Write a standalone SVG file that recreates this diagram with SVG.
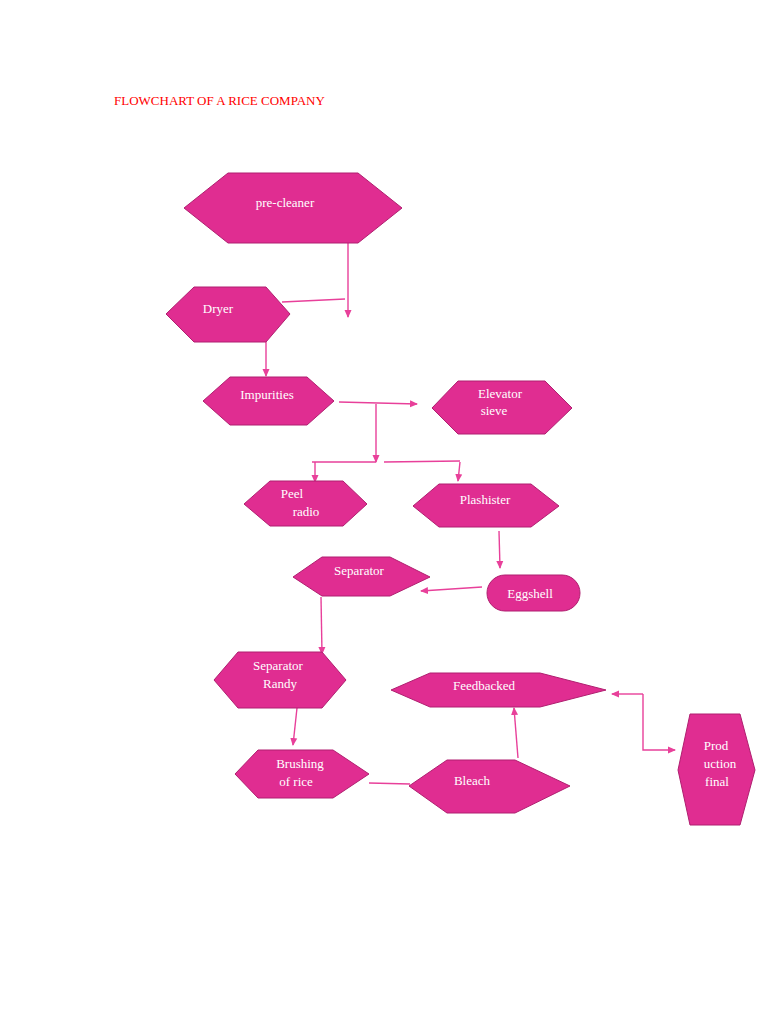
<svg xmlns="http://www.w3.org/2000/svg" width="768" height="1024" viewBox="0 0 768 1024">
<style>
.n{fill:#e02d91;stroke:#b01f70;stroke-width:1}
.t{font-family:"Liberation Serif",serif;font-size:13px;fill:#fff;text-anchor:middle}
.c{stroke:#e8409a;stroke-width:1.4;fill:none}
.a{marker-end:url(#ar)}
</style>
<defs><marker id="ar" markerWidth="8" markerHeight="8" refX="7" refY="4" orient="auto" markerUnits="userSpaceOnUse"><path d="M0,0.5 L8,4 L0,7.5z" fill="#e8409a"/></marker></defs>
<rect width="768" height="1024" fill="#fff"/>
<text x="114" y="105" font-family="Liberation Serif,serif" font-size="13" fill="#f00">FLOWCHART OF A RICE COMPANY</text>
<g id="connectors">
<path class="c a" d="M348,243 V317"/>
<path class="c" d="M282,302 L345,299"/>
<path class="c a" d="M266,342 V376"/>
<path class="c a" d="M339,402 L417,404"/>
<path class="c a" d="M376,404 V462"/>
<path class="c" d="M312,462 H376 M384,462 L460,461"/>
<path class="c a" d="M315,462 V482"/>
<path class="c a" d="M460,462 L458,481"/>
<path class="c a" d="M499,531 L500,568"/>
<path class="c a" d="M482,587 L421,591"/>
<path class="c a" d="M321,597 L322,654"/>
<path class="c a" d="M297,708 L293,745"/>
<path class="c" d="M369,783 L410,784"/>
<path class="c a" d="M518,758 L514,708"/>
<path class="c a" d="M643,694 H612"/>
<path class="c a" d="M643,694 V750 H675"/>
</g>
<g id="pre-cleaner"><polygon class="n" points="184,208 228,173 358,173 402,208 358,243 228,243"/><text class="t" x="285" y="207">pre-cleaner</text></g>
<g id="dryer"><polygon class="n" points="166,314 194,287 266,287 290,314 266,342 194,342"/><text class="t" x="218" y="313">Dryer</text></g>
<g id="impurities"><polygon class="n" points="203,401 230,377 307,377 334,401 307,425 230,425"/><text class="t" x="267" y="399">Impurities</text></g>
<g id="elevator"><polygon class="n" points="432,408 458,381 545,381 572,408 545,434 458,434"/><text class="t" x="500" y="398">Elevator</text><text class="t" x="494" y="415">sieve</text></g>
<g id="peel"><polygon class="n" points="244,504 270,481 343,481 367,504 343,526 270,526"/><text class="t" x="292" y="498">Peel</text><text class="t" x="306" y="516">radio</text></g>
<g id="plashister"><polygon class="n" points="413,506 439,484 531,484 559,506 531,527 439,527"/><text class="t" x="485" y="504">Plashister</text></g>
<g id="separator"><polygon class="n" points="293,577 322,557 390,557 430,577 390,596 322,596"/><text class="t" x="359" y="575">Separator</text></g>
<g id="eggshell"><rect class="n" x="487" y="575" width="93" height="36" rx="18"/><text class="t" x="530" y="598">Eggshell</text></g>
<g id="separator-randy"><polygon class="n" points="214,680 238,652 322,652 346,680 322,708 238,708"/><text class="t" x="278" y="670">Separator</text><text class="t" x="280" y="688">Randy</text></g>
<g id="feedbacked"><polygon class="n" points="391,690 430,673 540,673 606,690 540,707 430,707"/><text class="t" x="484" y="690">Feedbacked</text></g>
<g id="brushing"><polygon class="n" points="235,774 258,750 333,750 369,774 333,798 258,798"/><text class="t" x="300" y="768">Brushing</text><text class="t" x="296" y="786">of rice</text></g>
<g id="bleach"><polygon class="n" points="409,786 447,760 515,760 570,786 515,813 447,813"/><text class="t" x="472" y="785">Bleach</text></g>
<g id="production"><polygon class="n" points="678,770 690,714 740,714 755,770 740,825 690,825"/><text class="t" x="716" y="750">Prod</text><text class="t" x="720" y="768">uction</text><text class="t" x="717" y="786">final</text></g>
</svg>
